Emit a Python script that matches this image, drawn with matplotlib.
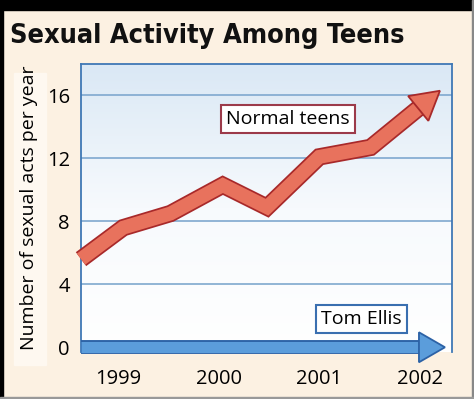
import numpy as np
import matplotlib
matplotlib.use('Agg')
import matplotlib.pyplot as plt
import matplotlib.patheffects as pe
from matplotlib import font_manager
from matplotlib.patches import Polygon, Rectangle

# data
years = [1998.63, 1999.05, 1999.52, 2000.04, 2000.48, 2001.0, 2001.51, 2002.2]
acts = [5.6, 7.6, 8.5, 10.3, 8.9, 12.1, 12.7, 16.3]
tom_years = [1998.63, 2002.25]
tom_acts = [0, 0]
year_ticks = [1999, 2000, 2001, 2002]
act_ticks = [0, 4, 8, 12, 16]

W, H = 474, 399
cream = '#fcf1e2'

# look for a narrow bold face for the headline
title_font = None
for f in font_manager.fontManager.ttflist:
    if f.weight in ('bold', 700, 800, 900, 'heavy', 'black') and f.stretch in ('condensed', 'semi-condensed', 'extra-condensed', 'ultra-condensed'):
        title_font = font_manager.FontProperties(fname=f.fname)
        break
if title_font is None:
    for f in font_manager.fontManager.ttflist:
        if 'narrow' in f.name.lower() or 'condensed' in f.name.lower():
            title_font = font_manager.FontProperties(fname=f.fname, weight='bold')
            break
if title_font is None:
    title_font = font_manager.FontProperties(family='DejaVu Sans', weight='bold')

fig = plt.figure(figsize=(W / 100, H / 100), dpi=100)
fig.patch.set_facecolor(cream)

# black frame of the scan
fig.add_artist(Rectangle((0, 1 - 10 / H), 1, 10 / H, transform=fig.transFigure, color='black', zorder=0))
fig.add_artist(Rectangle((0, 0), 3 / W, 1, transform=fig.transFigure, color='black', zorder=0))
fig.add_artist(Rectangle((1 - 2 / W, 0), 2 / W, 1, transform=fig.transFigure, color='#888888', zorder=0))
fig.add_artist(Rectangle((0, 0), 1, 2 / H, transform=fig.transFigure, color='#999999', zorder=0))
# pale panel behind the axis title
fig.add_artist(Rectangle((14 / W, 1 - 365 / H), 32 / W, 292 / H, transform=fig.transFigure,
                         color='#fef8f0', zorder=0))

left, right, top, bottom = 81, 452, 64, 352
ax = fig.add_axes([left / W, 1 - bottom / H, (right - left) / W, (bottom - top) / H])
ax.set_xlim(1998.63, 2002.32)
ax.set_ylim(-0.3, 18)

# light blue to white gradient background
grad = np.linspace(0, 1, 256).reshape(-1, 1)
cmap = matplotlib.colors.LinearSegmentedColormap.from_list('bg', ['#ffffff', '#f7fafd', '#dae8f5'])
ax.imshow(grad, extent=[0, 1, 0, 1], transform=ax.transAxes, cmap=cmap,
          aspect='auto', origin='lower', zorder=0)
ax.set_facecolor('white')

for t in act_ticks[1:]:
    ax.axhline(t, color='#7fa8cf', lw=1.2, zorder=1)

for s in ax.spines.values():
    s.set_color('#3f78b5')
    s.set_linewidth(1.3)
ax.spines['bottom'].set_visible(False)

ax.set_xticks(year_ticks)
ax.set_yticks(act_ticks)
ax.tick_params(length=0, labelsize=14.5, pad=8)
for lab in ax.get_xticklabels() + ax.get_yticklabels():
    lab.set_family('Open Sans')
ax.tick_params(axis='x', pad=12)
ax.set_ylabel('Number of sexual acts per year', family='Open Sans', fontsize=14, labelpad=6)


def fat_arrow(xs, ys, fill, edge, inner, outer, head_len, head_w):
    # thick line plus a triangle head, sizes in pixels
    pts = ax.transData.transform(np.column_stack([xs, ys]))
    tip = pts[-1]
    d = tip - pts[-2]
    d = d / np.hypot(*d)
    n = np.array([-d[1], d[0]])
    base = tip - d * head_len
    line = np.vstack([pts[:-1], base + d * 2])
    line = ax.transData.inverted().transform(line)
    ax.plot(line[:, 0], line[:, 1], color=fill, lw=inner, solid_joinstyle='miter',
            solid_capstyle='butt', zorder=3, clip_on=False,
            path_effects=[pe.Stroke(linewidth=outer, foreground=edge), pe.Normal()])
    head = np.array([base + n * head_w / 2, tip, base - n * head_w / 2])
    head = ax.transData.inverted().transform(head)
    ax.add_patch(Polygon(head, closed=True, fc=fill, ec=edge, lw=1.3, zorder=4, clip_on=False,
                         joinstyle='miter'))


fat_arrow(years, acts, '#e8725d', '#a8292a', 10, 12.5, 28, 32)
fat_arrow(tom_years, tom_acts, '#5b9ddb', '#2c62a6', 8, 10, 26, 30)

ax.text(2000.69, 14.5, 'Normal teens', family='Open Sans', fontsize=14, ha='center', va='center',
        zorder=5, bbox=dict(boxstyle='square,pad=0.25', fc='white', ec='#9c3a4a', lw=1.5))
ax.text(2001.42, 1.8, 'Tom Ellis', family='Open Sans', fontsize=14, ha='center', va='center',
        zorder=5, bbox=dict(boxstyle='square,pad=0.25', fc='white', ec='#3a6fb0', lw=1.5))

title = fig.text(10 / W, 1 - 36 / H, 'Sexual Activity Among Teens', fontproperties=title_font,
                 fontsize=28, ha='left', va='center', color='#111111')
# squeeze the headline if the face is too wide
fig.canvas.draw()
bb = title.get_window_extent()
if bb.width > 395:
    title.set_fontsize(28 * 395 / bb.width)

fig.savefig('out.png', dpi=100, facecolor=fig.get_facecolor())
